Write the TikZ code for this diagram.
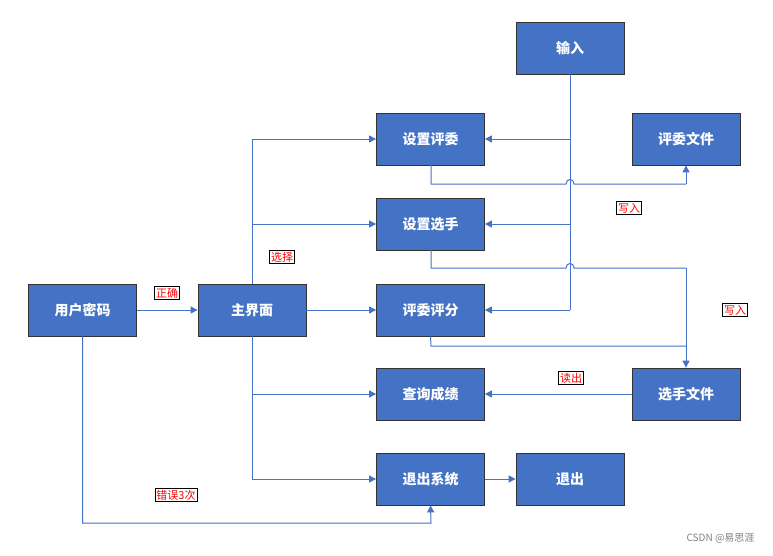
\documentclass[tikz,border=0pt]{standalone}
\usepackage{fontspec}
\setmainfont{Noto Sans CJK SC}
\usetikzlibrary{arrows.meta}
\definecolor{bx}{HTML}{4472C4}
\definecolor{ln}{HTML}{4472C4}
\tikzset{
 box/.style={draw=black!80,fill=bx,text=white,font=\bfseries\fontsize{14}{16}\selectfont,minimum width=108pt,minimum height=52pt,inner sep=0pt,line width=0.8pt},
 lab/.style={draw=black,fill=white,text=red,font=\fontsize{11}{12}\selectfont,inner sep=1.5pt,line width=0.5pt},
 con/.style={draw=ln,line width=1pt,-{Triangle[length=7pt,width=7pt]}},
 pl/.style={draw=ln,line width=1pt}
}
\begin{document}
\begin{tikzpicture}[x=1pt,y=-1pt]
\useasboundingbox (0,0) rectangle (773,555);
\node[box] (mm) at (82.5,310) {用户密码};
\node[box] (zj) at (252,310) {主界面};
\node[box] (pw) at (430.5,139) {设置评委};
\node[box] (xs) at (430.5,224) {设置选手};
\node[box] (pf) at (430.5,310) {评委评分};
\node[box] (cx) at (430.5,394) {查询成绩};
\node[box] (tc) at (430.5,479) {退出系统};
\node[box] (out) at (570,479) {退出};
\node[box] (in) at (570,48) {输入};
\node[box] (pwf) at (686,139) {评委文件};
\node[box] (xsf) at (686,394) {选手文件};

\draw[con] (mm) -- (zj);
\draw[con] (zj.north) |- (pw.west);
\draw[con] (252,224) -- (xs.west);
\draw[con] (zj) -- (pf);
\draw[con] (zj.south) |- (cx.west);
\draw[con] (252,394) |- (tc.west);
\draw[con] (mm.south) |- (431,523) -- (tc.south);
\draw[con] (tc) -- (out);
\draw[con] (xsf) -- (cx);

\draw[pl] (in.south) -- (570,310);
\draw[con] (570,139) -- (pw.east);
\draw[con] (570,224) -- (xs.east);
\draw[con] (570,310) -- (pf.east);

\draw[pl] (431,165) -- (431,184) -- (566,184) .. controls (566,178) and (574,178) .. (574,184) -- (686,184);
\draw[con] (686,184) -- (pwf.south);
\draw[pl] (431,250) -- (431,268) -- (566,268) .. controls (566,262) and (574,262) .. (574,268) -- (686,268);
\draw[con] (686,268) -- (xsf.north);
\draw[pl] (pf.south) -- (431,346) -- (686,346);

\node[lab] (l1) at (167,293) {正确};
\node[lab] (l2) at (282,257) {选择};
\node[lab] (l3) at (629,208) {写入};
\node[lab] (l4) at (735,310) {写入};
\node[lab] (l5) at (571,378) {读出};
\node[lab] (l6) at (176,495) {错误3次};
\node[text=gray,font=\fontsize{10}{12}\selectfont,anchor=east] (wm) at (758,538) {CSDN @易思涯};
\end{tikzpicture}
\end{document}
